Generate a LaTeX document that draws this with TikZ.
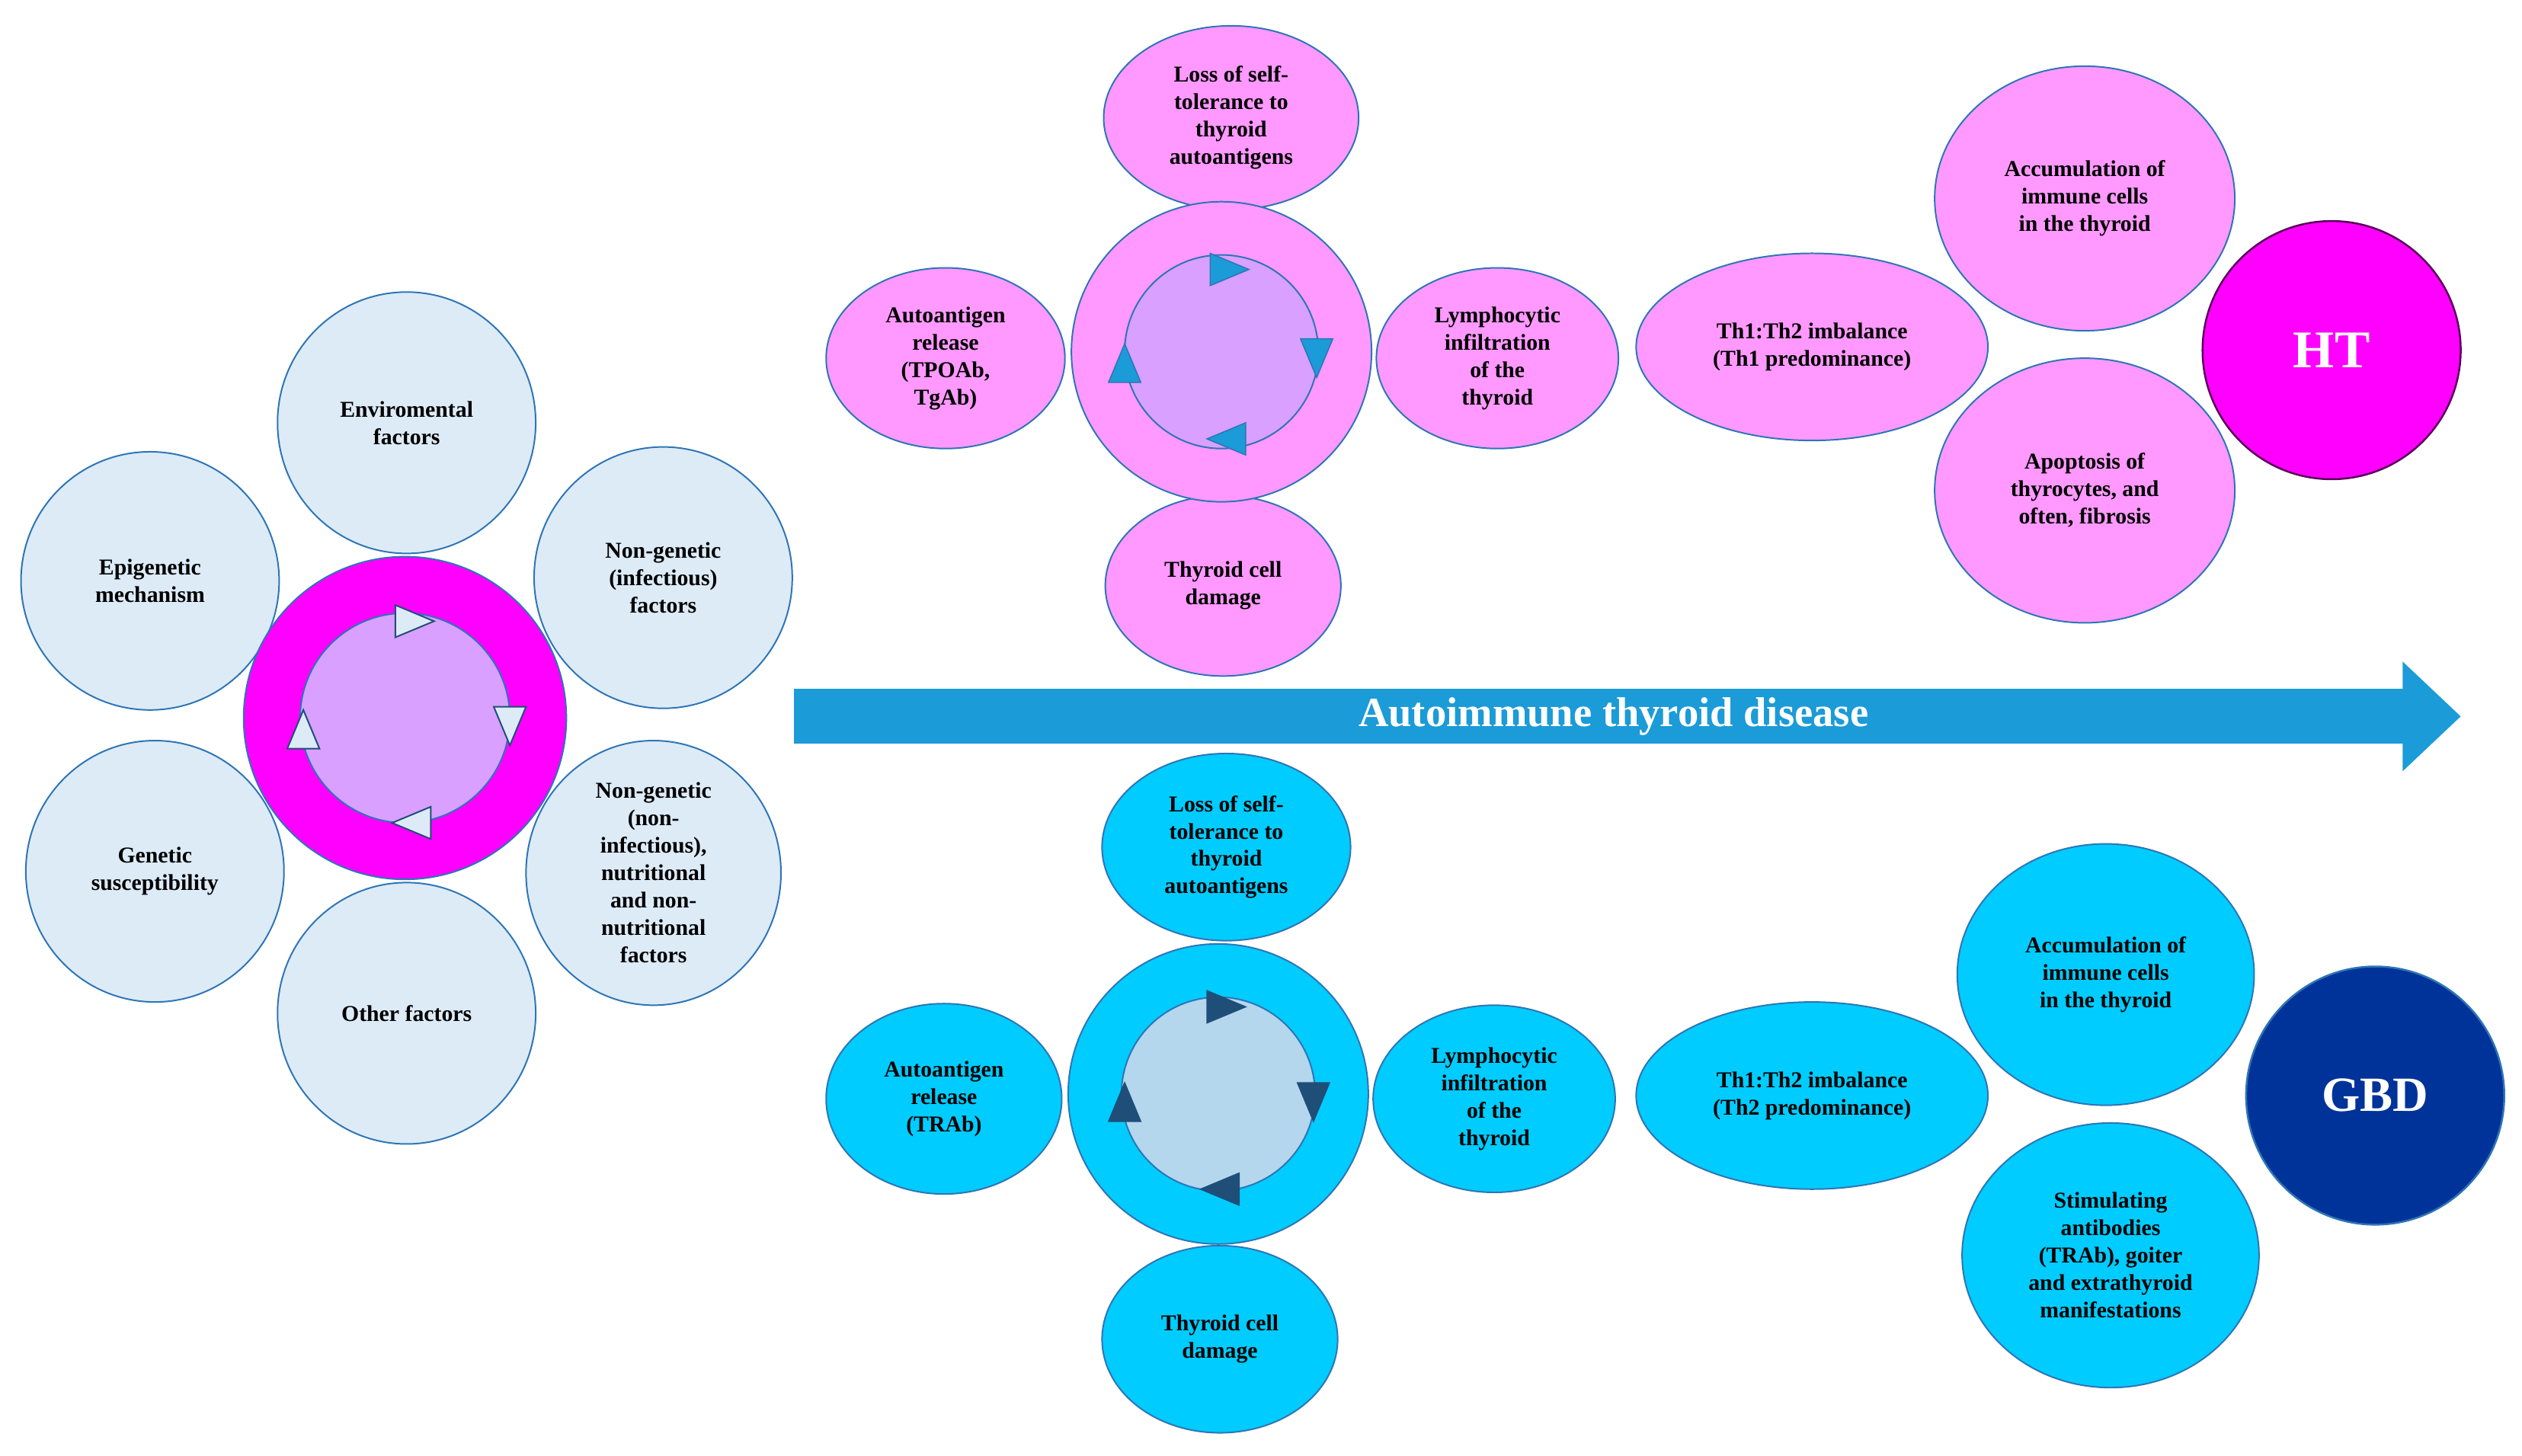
\documentclass[tikz,border=0pt]{standalone}
\usepackage{fontspec}
\setmainfont{Liberation Serif}
\usetikzlibrary{shapes.geometric}
\definecolor{lb}{HTML}{DDEBF7}
\definecolor{bd}{HTML}{2E75B6}
\definecolor{pk}{HTML}{FF99FF}
\definecolor{lav}{HTML}{D9A0FF}
\definecolor{mag}{HTML}{FF00FF}
\definecolor{cy}{HTML}{00CCFF}
\definecolor{arr}{HTML}{1B9BD7}
\definecolor{lbl}{HTML}{B4D7EE}
\definecolor{navy}{HTML}{003399}
\definecolor{dtri}{HTML}{1F4E79}
\newcommand\E[7]{\node[#1, minimum width=#4*0.03cm, minimum height=#5*0.03cm] (#6) at (#2,#3) {#7};}
\begin{document}
\begin{tikzpicture}[x=0.03cm,y=-0.03cm,
  every node/.style={font=\bfseries\fontsize{12}{14.5}\selectfont, align=center, inner sep=0pt},
  el/.style={ellipse, draw=bd, line width=0.8pt},
  lbc/.style={el, fill=lb},
  pkc/.style={el, fill=pk},
  cyc/.style={el, fill=cy}]
\useasboundingbox (0,0) rectangle (1563,902);
% left cluster
\E{lbc}{252}{262}{160}{162}{env}{Enviromental\\factors}
\E{lbc}{93}{360}{160}{160}{epi}{Epigenetic\\mechanism}
\E{lbc}{411}{358}{160}{162}{infec}{Non-genetic\\(infectious)\\factors}
\E{lbc}{96}{540}{160}{162}{gen}{Genetic\\susceptibility}
\E{lbc}{252}{628}{160}{162}{oth}{Other factors}
\E{lbc}{405}{541}{158}{164}{noninf}{Non-genetic\\(non-\\infectious),\\nutritional\\and non-\\nutritional\\factors}
\node[circle, draw=bd, fill=mag, line width=0.8pt, minimum size=200*0.03cm] (lring) at (251,445) {};
\node[circle, draw=bd, fill=lav, line width=0.8pt, minimum size=130*0.03cm] (linner) at (251,445) {};
\foreach \x/\y/\r in {257/385/0, 316/450/-90, 255/510/180, 188/452/90}{
  \draw[fill=lb, draw=dtri, line width=0.8pt, shift={(\x,\y)}, rotate=\r] (-12,-10) -- (12,0) -- (-12,10) -- cycle;}
% main arrow
\node[fill=arr, minimum width=998*0.03cm, minimum height=34*0.03cm, anchor=west] (bar) at (492,444) {};
\fill[arr] (1489,410) -- (1525,444) -- (1489,478) -- cycle;
\node[text=white, font=\bfseries\fontsize{22}{26}\selectfont] (title) at (1000,444) {Autoimmune thyroid disease};
% top group
\E{pkc}{763}{73}{158}{114}{tloss}{Loss of self-\\tolerance to\\thyroid\\autoantigens}
\E{pkc}{586}{222}{148}{112}{trel}{Autoantigen\\release\\(TPOAb,\\TgAb)}
\E{pkc}{928}{222}{150}{112}{tlym}{Lymphocytic\\infiltration\\of the\\thyroid}
\E{pkc}{758}{363}{146}{112}{tdam}{Thyroid cell\\damage}
\node[circle, draw=bd, fill=pk, line width=0.8pt, minimum size=186*0.03cm] (tring) at (757,218) {};
\node[circle, draw=bd, fill=lav, line width=0.8pt, minimum size=120*0.03cm] (tinner) at (757,218) {};
\foreach \x/\y/\r in {762/167/0, 816/222/-90, 760/272/180, 697/225/90}{
  \draw[fill=arr, draw=bd, line width=0.6pt, shift={(\x,\y)}, rotate=\r] (-12,-10) -- (12,0) -- (-12,10) -- cycle;}
\E{pkc}{1123}{215}{218}{116}{tth}{Th1:Th2 imbalance\\(Th1 predominance)}
\E{pkc}{1292}{123}{186}{164}{tacc}{Accumulation of\\immune cells\\in the thyroid}
\E{pkc}{1292}{304}{186}{164}{tapo}{Apoptosis of\\thyrocytes, and\\often, fibrosis}
\node[circle, draw=violet!70!black, fill=mag, line width=1pt, minimum size=160*0.03cm, text=white, font=\bfseries\fontsize{28}{32}\selectfont] (ht) at (1445,217) {HT};
% bottom group
\E{cyc}{760}{525}{154}{116}{bloss}{Loss of self-\\tolerance to\\thyroid\\autoantigens}
\E{cyc}{585}{681}{146}{118}{brel}{Autoantigen\\release\\(TRAb)}
\E{cyc}{926}{681}{150}{116}{blym}{Lymphocytic\\infiltration\\of the\\thyroid}
\E{cyc}{756}{830}{146}{116}{bdam}{Thyroid cell\\damage}
\node[circle, draw=bd, fill=cy, line width=0.8pt, minimum size=186*0.03cm] (bring) at (755,678) {};
\node[circle, draw=bd, fill=lbl, line width=0.8pt, minimum size=120*0.03cm] (binner) at (755,678) {};
\foreach \x/\y/\r in {760/624/0, 814/683/-90, 756/737/180, 697/683/90}{
  \draw[fill=dtri, draw=dtri, line width=0.6pt, shift={(\x,\y)}, rotate=\r] (-12,-10) -- (12,0) -- (-12,10) -- cycle;}
\E{cyc}{1123}{679}{218}{116}{bth}{Th1:Th2 imbalance\\(Th2 predominance)}
\E{cyc}{1305}{604}{184}{162}{bacc}{Accumulation of\\immune cells\\in the thyroid}
\E{cyc}{1308}{778}{184}{164}{bsti}{Stimulating\\antibodies\\(TRAb), goiter\\and extrathyroid\\manifestations}
\node[circle, draw=bd, fill=navy, line width=1pt, minimum size=160*0.03cm, text=white, font=\bfseries\fontsize{26}{30}\selectfont] (gbd) at (1472,679) {GBD};
\end{tikzpicture}
\end{document}
